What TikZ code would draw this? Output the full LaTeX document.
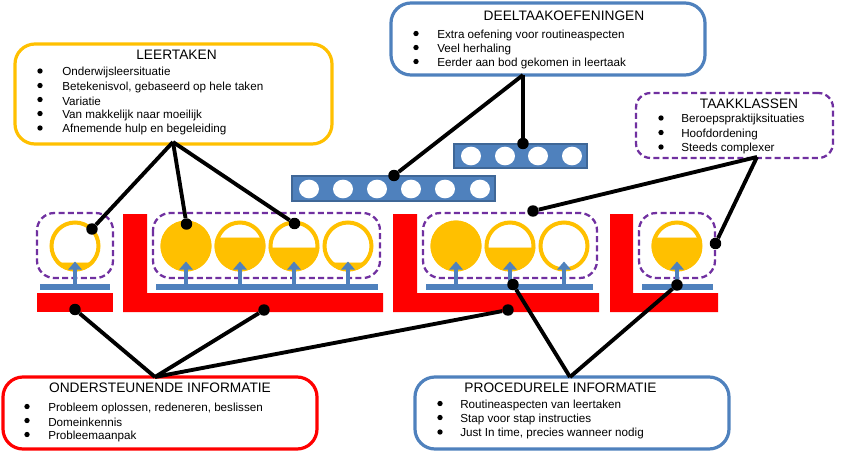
\documentclass[tikz,border=0pt]{standalone}
\usepackage{fontspec}
\setmainfont{Liberation Sans}
\definecolor{yel}{HTML}{FFC000}
\definecolor{pur}{HTML}{7030A0}
\definecolor{blu}{HTML}{4F81BD}
\definecolor{dblu}{HTML}{3F6797}
\definecolor{rd}{HTML}{FF0000}
\usetikzlibrary{arrows.meta,shapes.geometric}
\tikzset{
  callout/.style={draw=#1,line width=2.4pt,rounded corners=15pt,fill=white,inner sep=0pt},
  classbox/.style={draw=pur,line width=1.7pt,dash pattern=on 4.5pt off 2.5pt,rounded corners=13pt},
  wire/.style={line width=2.9pt,black},
  dot/.style={circle,fill=black,inner sep=0pt,minimum size=8.6pt},
  redpart/.style={fill=rd,draw=none},
  barpart/.style={fill=blu,draw=none},
  upper/.style={-{Triangle[width=10pt,length=6pt]},line width=3.4pt,blu},
  ttl/.style={font=\fontsize{10.3}{12}\selectfont,inner sep=0pt},
  itm/.style={font=\fontsize{8.75}{10}\selectfont,inner sep=0pt,anchor=west},
  bul/.style={circle,fill=black,inner sep=0pt,minimum size=4pt},
  hole/.style={ellipse,fill=white,inner sep=0pt,minimum width=15pt,minimum height=14pt},
  strip/.style={fill=blu,draw=dblu,line width=1.6pt}
}
\newcommand{\tank}[3]{%
  \begin{scope}
    \clip (#1,246) circle[radius=25.5];
    \fill[yel] (#1-26,#2) rectangle (#1+26,272);
    \fill[white,opacity=.6] (#1-26,#2-.5) rectangle (#1+26,#2+.5);
  \end{scope}
  \draw[yel,line width=3pt] (#1,246) circle[radius=23.5];
  \node[circle,inner sep=0pt,minimum size=38pt] (#3) at (#1,246) {};
}
\newcommand{\itemline}[4]{%
  \node[bul] at (#1,#3-1.5) {};
  \node[itm] at (#2,#3) {#4};
}
\begin{document}
\begin{tikzpicture}[x=0.75pt,y=-0.75pt]
\useasboundingbox (0,0) rectangle (865,454);

% red blocks
\fill[redpart] (37,293) rectangle (113,312);
\fill[redpart] (123,214) -- (147,214) -- (147,293) -- (383,293) -- (383,312) -- (123,312) -- cycle;
\fill[redpart] (393,214) -- (417,214) -- (417,293) -- (599,293) -- (599,312) -- (393,312) -- cycle;
\fill[redpart] (610,214) -- (633,214) -- (633,293) -- (718,293) -- (718,312) -- (610,312) -- cycle;

% class boxes
\draw[classbox] (37,213) rectangle (113,278);
\draw[classbox] (153,213) rectangle (380,278);
\draw[classbox] (423,213) rectangle (597,278);
\draw[classbox] (639,213) rectangle (715,278);

% tanks
\tank{75}{262}{t1}
\tank{186}{210}{t2}
\tank{240}{237}{t3}
\tank{294}{247}{t4}
\tank{348}{262}{t5}
\tank{456}{210}{t6}
\tank{510}{247}{t7}
\tank{564}{273}{t8}
\tank{677}{237}{t9}

% bars
\fill[barpart] (40,283.5) rectangle (110,289.5);
\fill[barpart] (156,283.5) rectangle (378,289.5);
\fill[barpart] (426,283.5) rectangle (593,289.5);
\fill[barpart] (642,283.5) rectangle (713,289.5);

% arrows
\foreach \x in {75,186,240,294,348,456,510,564,677}
  \draw[upper] (\x,285) -- (\x,261.5);

% strips
\fill[strip] (292,176) rectangle (495,201);
\fill[strip] (454,144) rectangle (587,168);
\foreach \x in {309,343,377,411,445,480}
  \node[hole] at (\x,189) {};
\foreach \x in {471,505,538,572}
  \node[hole] at (\x,156) {};

% callouts
\node[callout=yel,minimum width=317pt*.75,minimum height=100pt*.75] (leer) at (173.5,94) {};
\node[callout=blu,minimum width=314pt*.75,minimum height=72pt*.75] (deel) at (548,39) {};
\node[callout=rd,minimum width=314pt*.75,minimum height=72pt*.75] (onder) at (160,413) {};
\node[callout=blu,minimum width=314pt*.75,minimum height=72pt*.75] (proc) at (572,413) {};
\node[draw=pur,line width=1.7pt,dash pattern=on 4.5pt off 2.5pt,rounded corners=11pt,fill=white,inner sep=0pt,minimum width=197pt*.75,minimum height=65pt*.75] (taak) at (734.5,125.5) {};

% texts
\node[ttl] at (176.5,55) {LEERTAKEN};
\itemline{40}{62}{72.5}{Onderwijsleersituatie}
\itemline{40}{62}{87}{Betekenisvol, gebaseerd op hele taken}
\itemline{40}{62}{101}{Variatie}
\itemline{40}{62}{115}{Van makkelijk naar moeilijk}
\itemline{40}{62}{129.5}{Afnemende hulp en begeleiding}

\node[ttl] at (564,16) {DEELTAAKOEFENINGEN};
\itemline{416}{437}{35}{Extra oefening voor routineaspecten}
\itemline{416}{437}{49}{Veel herhaling}
\itemline{416}{437}{63}{Eerder aan bod gekomen in leertaak}

\node[ttl] at (749,104) {TAAKKLASSEN};
\itemline{661}{681}{119.5}{Beroepspraktijksituaties}
\itemline{661}{681}{134}{Hoofdordening}
\itemline{661}{681}{148.5}{Steeds complexer}

\node[ttl] at (160,388) {ONDERSTEUNENDE INFORMATIE};
\itemline{27}{48}{408}{Probleem oplossen, redeneren, beslissen}
\itemline{27}{48}{422}{Domeinkennis}
\itemline{27}{48}{436}{Probleemaanpak}

\node[ttl] at (560.5,388) {PROCEDURELE INFORMATIE};
\itemline{440}{460}{405}{Routineaspecten van leertaken}
\itemline{440}{460}{419}{Stap voor stap instructies}
\itemline{440}{460}{433.5}{Just In time, precies wanneer nodig}

% connector ends
\node[dot] (a1) at (92,229) {};
\node[dot] (a2) at (186.5,224) {};
\node[dot] (a3) at (294.5,223.5) {};
\node[dot] (b1) at (394,175.5) {};
\node[dot] (b2) at (523,143.5) {};
\node[dot] (c1) at (533,211) {};
\node[dot] (c2) at (715.5,243.5) {};
\node[dot] (d1) at (75,309.5) {};
\node[dot] (d2) at (264,310) {};
\node[dot] (d3) at (508,310) {};
\node[dot] (e1) at (513,284.5) {};
\node[dot] (e2) at (677,285) {};
\coordinate (lp) at (173,142);
\coordinate (dp) at (523,75);
\coordinate (tp) at (757,157);
\coordinate (op) at (155,377);
\coordinate (pp) at (570,377);

% connectors
\draw[wire] (lp) -- (a1);
\draw[wire] (lp) -- (a2);
\draw[wire] (lp) -- (a3);
\draw[wire] (dp) -- (b1);
\draw[wire] (dp) -- (b2);
\draw[wire] (tp) -- (c1);
\draw[wire] (tp) -- (c2);
\draw[wire] (op) -- (d1);
\draw[wire] (op) -- (d2);
\draw[wire] (op) -- (d3);
\draw[wire] (pp) -- (e1);
\draw[wire] (pp) -- (e2);
\end{tikzpicture}
\end{document}
